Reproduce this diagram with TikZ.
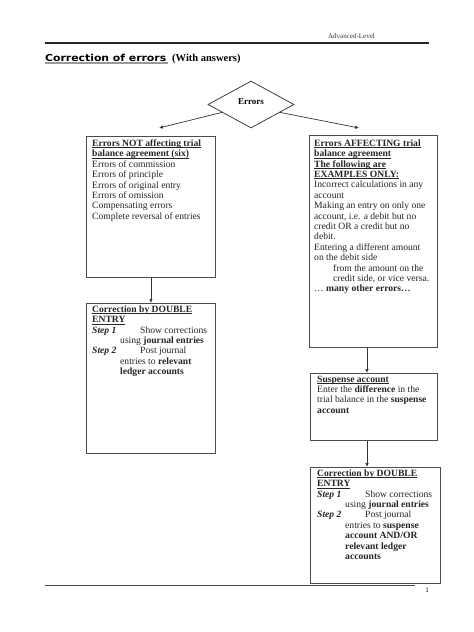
\documentclass[tikz,border=0pt]{standalone}
\usepackage{fontspec}
\setmainfont{Liberation Serif}
\newfontfamily\titlefont[FakeStretch=1.13]{DejaVu Sans}
\usetikzlibrary{shapes.geometric,arrows.meta,calc}
\tikzset{
  boxstyle/.style={draw=black!70, line width=0.9pt, inner sep=0pt, anchor=north west},
  txtstyle/.style={anchor=north west, inner sep=0pt, align=left, font=\fontsize{9.6}{10.4}\selectfont, text=black!85},
  arrowstyle/.style={draw=black!80, line width=0.7pt, -{Latex[length=4pt,width=3.5pt]}},
}
\newcommand{\myul}[1]{\setbox0\hbox{#1}\rlap{\rule[-1.4pt]{\wd0}{0.5pt}}\box0}
\newcommand{\ub}[1]{\myul{\textbf{#1}}}
\begin{document}
\begin{tikzpicture}[x=1pt,y=-1pt]
\useasboundingbox (0,0) rectangle (474,632);
\fill[white] (0,0) rectangle (474,632);
% header
\node[anchor=base east, inner sep=0, font=\fontsize{7}{8}\selectfont, text=black!80] (hdr) at (375,38) {Advanced-Level};
\draw[line width=2.2pt, black!85] (45,43) -- (429,43);
% title
\fill[black!40] (45,61.8) rectangle (168,64.3);
\node[anchor=base west, inner sep=0, font=\titlefont\bfseries\fontsize{9.6}{11}\selectfont] (title) at (45,61) {Correction of errors};
\node[anchor=base west, inner sep=0, font=\bfseries\fontsize{10.5}{12}\selectfont] (sub) at (172,61) {(With answers)};
% diamond
\node[diamond, draw=black!75, line width=0.8pt, minimum width=86pt, minimum height=47pt, inner sep=0pt] (err) at (251,104.5) {};
\node[inner sep=0, anchor=base, font=\bfseries\fontsize{9}{10}\selectfont] (errt) at (251,104) {Errors};
\coordinate (lend) at (159,128);
\coordinate (rend) at (359,128);
\draw[arrowstyle] ($(err.west)!0.33!(err.south)$) -- (lend);
\draw[arrowstyle] ($(err.east)!0.33!(err.south)$) -- (rend);
% left box 1
\node[boxstyle, minimum width=129pt, minimum height=141pt] (L1) at (86,136) {};
\node[txtstyle] (L1t) at (92,139.5) {\ub{Errors NOT affecting trial}\\
\ub{balance agreement (six)}\\
Errors of commission\\
Errors of principle\\
Errors of original entry\\
Errors of omission\\
Compensating errors\\
Complete reversal of entries};
% left box 2
\node[boxstyle, minimum width=129pt, minimum height=150pt] (L2) at (86,303) {};
\node[txtstyle] (L2t) at (92,305.5) {\ub{Correction by DOUBLE}\\
\ub{ENTRY}\\
\makebox[48pt][l]{\textbf{\textit{Step 1}}}Show corrections\\
\hspace*{28pt}using \textbf{journal entries}\\
\makebox[48pt][l]{\textbf{\textit{Step 2}}}Post journal\\
\hspace*{28pt}entries to \textbf{relevant}\\
\hspace*{28pt}\textbf{ledger accounts}};
\draw[arrowstyle] (L1.south) -- (L2.north);
% right box 1
\node[boxstyle, minimum width=128pt, minimum height=212pt] (R1) at (309,135) {};
\node[txtstyle] (R1t) at (314,139.5) {\ub{Errors AFFECTING trial}\\
\ub{balance agreement}\\
\ub{The following are}\\
\ub{EXAMPLES ONLY:}\\
Incorrect calculations in any\\
account\\
Making an entry on only one\\
account, i.e. a debit but no\\
credit OR a credit but no\\
debit.\\
Entering a different amount\\
on the debit side\\
\hspace*{19pt}from the amount on the\\
\hspace*{19pt}credit side, or vice versa.\\
\ldots\ \textbf{many other errors\ldots}};
% right box 2
\node[boxstyle, minimum width=127pt, minimum height=67pt] (R2) at (310,373) {};
\node[txtstyle] (R2t) at (317,375.5) {\ub{Suspense account}\\
Enter the \textbf{difference} in the\\
trial balance in the \textbf{suspense}\\
\textbf{account}};
\draw[arrowstyle] ($(R1.south west)!0.45!(R1.south east)$) coordinate (r1s) -- (r1s |- R2.north);
% right box 3
\node[boxstyle, minimum width=130pt, minimum height=116pt] (R3) at (310,467) {};
\node[txtstyle] (R3t) at (317,469.5) {\ub{Correction by DOUBLE}\\
\ub{ENTRY}\\
\makebox[48pt][l]{\textbf{\textit{Step 1}}}Show corrections\\
\hspace*{28pt}using \textbf{journal entries}\\
\makebox[48pt][l]{\textbf{\textit{Step 2}}}Post journal\\
\hspace*{28pt}entries to \textbf{suspense}\\
\hspace*{28pt}\textbf{account AND/OR}\\
\hspace*{28pt}\textbf{relevant ledger}\\
\hspace*{28pt}\textbf{accounts}};
\draw[arrowstyle] (r1s |- R2.south) -- (r1s |- R3.north);
% footer
\draw[line width=0.6pt, black!70] (45,585) -- (415,585);
\node[anchor=base, inner sep=0, font=\fontsize{7}{8}\selectfont] (pg) at (427,592) {1};
\end{tikzpicture}
\end{document}
